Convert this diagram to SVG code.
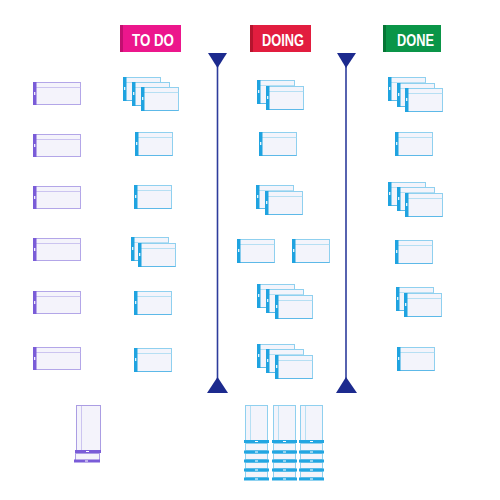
<svg xmlns="http://www.w3.org/2000/svg" xmlns:xlink="http://www.w3.org/1999/xlink" width="500" height="500" viewBox="0 0 500 500">
<style>
.lbl{font-family:"Liberation Sans",Arial,sans-serif;font-weight:bold;font-size:17px;fill:#fff}
.pole{stroke:#2d3c9c;stroke-width:1.6}
.foot{fill:#1c2a8e}
.vb{fill:#f3f4fb;stroke:#8fd0ef;stroke-width:1}
.vbs{fill:#22a6e2}
.vp{fill:#f4f3fb;stroke:#ab9de3;stroke-width:1}
.vps{fill:#7a5cd8}
</style>
<defs>
<g id="cb">
<rect x="0.5" y="0.5" width="37" height="23" fill="#f3f4fb" stroke="#8fd0ef" stroke-width="1"/>
<line x1="3" y1="5.5" x2="37.5" y2="5.5" stroke="#a6d9f1" stroke-width="0.8"/>
<line x1="1" y1="23.5" x2="37.5" y2="23.5" stroke="#5db9e8" stroke-width="1"/>
<rect x="0" y="0" width="3.5" height="24" fill="#1fa3e0"/>
<rect x="1.1" y="10" width="1.2" height="3" fill="#fff"/>
</g>
<g id="cp">
<rect x="0.5" y="0.5" width="47" height="22" fill="#f4f3fb" stroke="#b3a6e8" stroke-width="1"/>
<line x1="3" y1="5.5" x2="47.5" y2="5.5" stroke="#c2b8ee" stroke-width="0.8"/>
<rect x="0" y="0" width="3.5" height="23" fill="#7a5cd8"/>
<rect x="1.1" y="10" width="1.2" height="3" fill="#fff"/>
</g>
</defs>
<rect width="500" height="500" fill="#fff"/>

<g id="label-todo">
<rect x="120" y="25" width="61" height="27" fill="#ec168c"/>
<rect x="120" y="25" width="3" height="27" fill="#c20f70"/>
<text class="lbl" x="153" y="45.5" text-anchor="middle" textLength="42" lengthAdjust="spacingAndGlyphs">TO DO</text>
</g>
<g id="label-doing">
<rect x="250" y="25" width="61" height="27" fill="#e21d3f"/>
<rect x="250" y="25" width="3" height="27" fill="#b5142e"/>
<text class="lbl" x="283" y="45.5" text-anchor="middle" textLength="42" lengthAdjust="spacingAndGlyphs">DOING</text>
</g>
<g id="label-done">
<rect x="383" y="25" width="58" height="27" fill="#0a9548"/>
<rect x="383" y="25" width="3" height="27" fill="#067535"/>
<text class="lbl" x="415.5" y="45.5" text-anchor="middle" textLength="37" lengthAdjust="spacingAndGlyphs">DONE</text>
</g>

<g id="poles">
<line class="pole" x1="217.5" y1="60" x2="217.5" y2="385"/>
<polygon class="foot" points="208,53 227,53 217.5,68"/>
<polygon class="foot" points="217.5,377 207,393 228,393"/>
<line class="pole" x1="346" y1="60" x2="346" y2="385"/>
<polygon class="foot" points="337,53 356,53 346,68"/>
<polygon class="foot" points="346,377 336,393 357,393"/>
</g>

<g id="col-left">
<use xlink:href="#cp" x="33" y="82"/>
<use xlink:href="#cp" x="33" y="134"/>
<use xlink:href="#cp" x="33" y="186"/>
<use xlink:href="#cp" x="33" y="238"/>
<use xlink:href="#cp" x="33" y="291"/>
<use xlink:href="#cp" x="33" y="347"/>
</g>

<g id="col-todo">
<use xlink:href="#cb" x="123" y="77"/>
<use xlink:href="#cb" x="132" y="82"/>
<use xlink:href="#cb" x="141" y="87"/>
<use xlink:href="#cb" x="135" y="132"/>
<use xlink:href="#cb" x="134" y="185"/>
<use xlink:href="#cb" x="131" y="237"/>
<use xlink:href="#cb" x="138" y="243"/>
<use xlink:href="#cb" x="134" y="291"/>
<use xlink:href="#cb" x="134" y="348"/>
</g>

<g id="col-doing">
<use xlink:href="#cb" x="257" y="80"/>
<use xlink:href="#cb" x="266" y="86"/>
<use xlink:href="#cb" x="259" y="132"/>
<use xlink:href="#cb" x="256" y="185"/>
<use xlink:href="#cb" x="265" y="191"/>
<use xlink:href="#cb" x="237" y="239"/>
<use xlink:href="#cb" x="292" y="239"/>
<use xlink:href="#cb" x="257" y="284"/>
<use xlink:href="#cb" x="266" y="289"/>
<use xlink:href="#cb" x="275" y="295"/>
<use xlink:href="#cb" x="257" y="344"/>
<use xlink:href="#cb" x="266" y="349"/>
<use xlink:href="#cb" x="275" y="355"/>
</g>

<g id="col-done">
<use xlink:href="#cb" x="388" y="77"/>
<use xlink:href="#cb" x="397" y="83"/>
<use xlink:href="#cb" x="405" y="88"/>
<use xlink:href="#cb" x="395" y="132"/>
<use xlink:href="#cb" x="388" y="182"/>
<use xlink:href="#cb" x="397" y="187"/>
<use xlink:href="#cb" x="405" y="193"/>
<use xlink:href="#cb" x="395" y="240"/>
<use xlink:href="#cb" x="396" y="287"/>
<use xlink:href="#cb" x="404" y="293"/>
<use xlink:href="#cb" x="397" y="347"/>
</g>

<g id="pack-purple">
<rect class="vp" x="76.5" y="405.5" width="24" height="47"/>
<line x1="81.5" y1="406" x2="81.5" y2="450" stroke="#c2b8ee" stroke-width="0.8"/>
<rect class="vp" x="75.5" y="453.5" width="24" height="7"/>
<rect class="vps" x="75" y="450" width="26" height="3"/>
<rect class="vps" x="74" y="459.5" width="26" height="3"/>
<rect x="86" y="451" width="3" height="1" fill="#fff"/>
<rect x="85" y="460.5" width="3" height="1" fill="#fff"/>
</g>

<g id="pack-blue">
<g id="pack-blue-1">
<rect class="vb" x="245.5" y="405.5" width="22" height="35"/>
<line x1="250.5" y1="406" x2="250.5" y2="440" stroke="#a6d9f1" stroke-width="0.8"/>
<rect class="vb" x="245.5" y="443.5" width="22" height="7"/>
<rect class="vb" x="245.5" y="453.5" width="22" height="6"/>
<rect class="vb" x="245.5" y="462.5" width="22" height="6"/>
<rect class="vb" x="245.5" y="471.5" width="22" height="6"/>
<rect class="vbs" x="244" y="440" width="25" height="3"/>
<rect class="vbs" x="244" y="450.5" width="25" height="3"/>
<rect class="vbs" x="244" y="459.5" width="25" height="3"/>
<rect class="vbs" x="244" y="468.5" width="25" height="3"/>
<rect class="vbs" x="244" y="477.5" width="25" height="3"/>
<rect x="255" y="441" width="3" height="1" fill="#fff"/>
<rect x="255" y="451.5" width="3" height="1" fill="#fff"/>
<rect x="255" y="460.5" width="3" height="1" fill="#fff"/>
<rect x="255" y="469.5" width="3" height="1" fill="#fff"/>
<rect x="255" y="478.5" width="3" height="1" fill="#fff"/>
</g>
<use xlink:href="#pack-blue-1" x="28"/>
<use xlink:href="#pack-blue-1" x="55"/>
</g>
</svg>
